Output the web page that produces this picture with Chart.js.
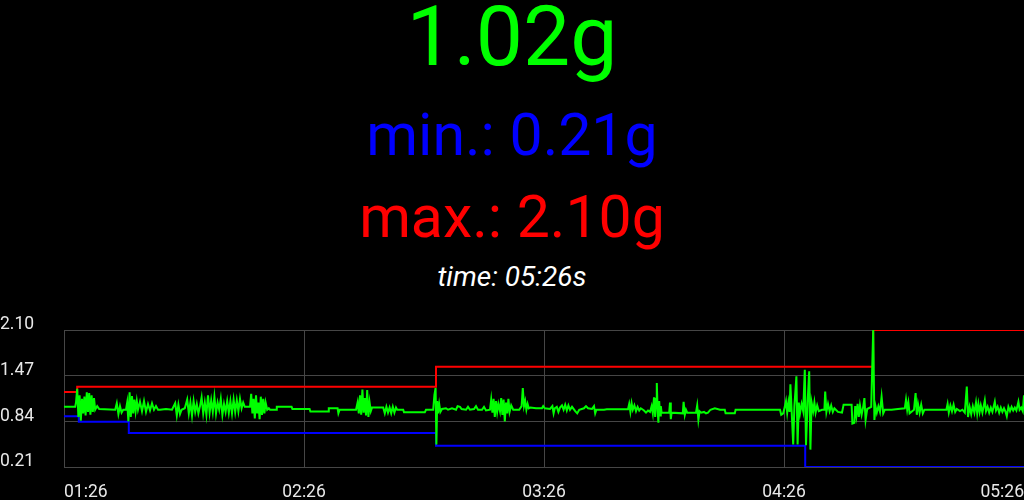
<!DOCTYPE html>
<html>
<head>
<meta charset="utf-8">
<script src="https://cdn.jsdelivr.net/npm/chart.js@4/dist/chart.umd.min.js"></script>
<style>
    html, body { margin: 0; padding: 0; background: #000; }
    body { width: 1024px; height: 500px; position: relative; overflow: hidden; font-family: Roboto, sans-serif; }
    .readout { position: absolute; left: 0; width: 1024px; text-align: center; line-height: 1; white-space: nowrap; }
    #current { top: -5px; font-size: 84px; color: #00ff00; }
    #minText { top: 105px; font-size: 59px; color: #0000ff; }
    #maxText { top: 187px; font-size: 59px; color: #ff0000; }
    #timeText { top: 263px; font-size: 28px; color: #fff; font-style: italic; }
    #graph { position: absolute; left: 0; top: 300px; }
</style>
</head>
<body>
<div class="readout" id="current">1.02g</div>
<div class="readout" id="minText">min.: 0.21g</div>
<div class="readout" id="maxText">max.: 2.10g</div>
<div class="readout" id="timeText">time: 05:26s</div>
<canvas id="graph" width="1024" height="200"></canvas>
<script>
// axis ticks (seconds / g)
const xTicks = [86, 146, 206, 266, 326];
const yTicks = [0.21, 0.84, 1.47, 2.10];

// running max / min, value holds until the next time
const maxTimes = [86, 89.3, 179, 288.3, 326];
const maxValues = [1.245, 1.318, 1.594, 2.10, 2.10];
const minTimes = [86, 89.7, 102.2, 179, 271.3, 326];
const minValues = [0.91, 0.835, 0.68, 0.504, 0.21, 0.21];

// accelerometer samples [seconds, g]
const accelSamples = [
    [86,1.04],[88.8,1.04],[89.0,1.10],[89.3,1.29],[89.6,0.90],[89.9,1.20],[90.2,0.85],[90.5,1.15],[90.8,0.95],[91.1,1.18],
    [91.4,0.92],[91.7,1.24],[92.0,0.97],[92.3,1.23],[92.6,0.93],[92.9,1.20],[93.2,0.97],[93.5,1.16],[93.8,1.00],[94.3,1.05],
    [94.8,1.01],[98.8,1.00],[99.2,1.09],[99.6,0.94],[100.0,1.05],[100.4,0.96],[100.8,1.00],[101.5,1.00],[101.8,1.10],[102.1,0.84],
    [102.4,1.24],[102.7,0.90],[103.0,1.19],[103.3,0.95],[103.6,1.14],[103.9,0.98],[104.2,1.12],[104.5,1.00],[105.0,1.11],[105.5,0.98],
    [106.0,1.12],[106.5,0.97],[107.0,1.08],[107.5,0.99],[108.0,1.09],[108.5,1.00],[109.0,1.05],[109.5,1.00],[110.0,1.00],[111.5,1.01],
    [113.0,1.00],[113.8,1.09],[114.2,0.92],[114.6,1.07],[115.0,0.94],[115.4,1.00],[116.2,1.02],[116.8,1.14],[117.2,0.95],[117.6,1.10],
    [118.0,0.92],[118.4,1.12],[118.8,0.97],[119.2,1.08],[119.6,0.95],[120.0,1.05],[120.4,1.17],[120.8,0.95],[121.2,1.10],[121.6,0.93],
    [122.0,1.20],[122.4,0.96],[122.8,1.13],[123.2,0.97],[123.6,1.18],[124.0,0.95],[124.4,1.10],[124.8,1.00],[125.2,1.15],[125.6,0.93],
    [126.0,1.08],[126.4,0.97],[126.8,1.12],[127.2,0.96],[127.6,1.12],[128.0,0.95],[128.4,1.14],[128.8,0.97],[129.2,1.13],[129.6,0.98],
    [130.0,1.15],[130.4,1.02],[130.8,1.10],[131.2,1.04],[132.5,1.04],[132.8,1.22],[133.1,0.95],[133.4,1.15],[133.7,0.88],[134.0,1.20],
    [134.3,0.95],[134.6,1.10],[134.9,0.87],[135.2,1.18],[135.5,0.93],[135.8,1.15],[136.1,0.95],[136.4,1.10],[136.8,1.00],[137.2,1.02],
    [137.5,1.00],[139.0,1.00],[139.2,1.04],[142.9,1.04],[143.1,1.01],[147.4,1.01],[147.6,0.975],[152.0,0.975],[152.2,1.02],[154.4,1.02],
    [154.6,0.95],[154.9,1.00],[159.0,1.00],[159.4,1.10],[159.7,0.95],[160.0,1.20],[160.3,0.93],[160.6,1.28],[160.9,0.96],[161.2,1.16],
    [161.5,0.92],[161.8,1.27],[162.1,0.90],[162.4,1.10],[162.7,0.98],[163.0,1.03],[165.8,1.03],[166.2,0.95],[166.6,1.04],[167.0,0.96],
    [167.4,1.03],[167.8,0.95],[168.2,1.04],[168.6,0.96],[169.0,1.03],[169.3,1.00],[170.8,1.00],[171.0,0.964],[176.2,0.964],[176.5,1.00],
    [178.3,1.00],[178.6,1.20],[178.9,1.30],[179.1,0.52],[179.3,1.12],[179.5,0.95],[179.8,1.08],[180.1,0.97],[180.5,1.01],[181.5,1.02],
    [182.0,1.00],[183.0,1.02],[184.0,1.00],[184.4,1.05],[185.0,1.04],[185.4,1.01],[186.5,1.00],[187.0,1.04],[187.5,1.00],[188.5,1.01],
    [189.0,1.05],[189.5,1.00],[190.5,1.00],[191.0,1.04],[191.5,0.99],[192.5,1.00],[192.8,1.14],[193.1,0.96],[193.4,1.15],[193.7,0.90],
    [194.0,1.12],[194.3,0.97],[194.6,1.08],[195.0,0.98],[195.3,1.16],[195.6,0.93],[195.9,1.14],[196.2,0.84],[196.5,1.10],[196.8,0.95],
    [197.1,1.15],[197.4,0.97],[197.8,1.06],[198.3,1.00],[199.8,1.00],[200.4,1.05],[200.7,1.30],[201.0,1.05],[201.3,1.12],[201.6,1.00],
    [201.9,1.08],[202.2,1.02],[202.6,1.03],[204.0,1.02],[205.5,1.02],[205.8,1.05],[206.2,1.02],[207.5,1.01],[208.1,1.05],[208.4,0.95],
    [208.7,1.02],[209.2,1.04],[209.6,0.97],[210.0,1.03],[210.5,1.06],[210.9,1.00],[211.3,1.07],[211.7,0.99],[212.1,1.06],[212.5,1.00],
    [213.0,1.04],[213.8,0.98],[214.3,0.95],[214.8,1.00],[216.0,1.02],[216.5,1.05],[217.0,1.02],[218.0,1.01],[218.5,1.05],[218.8,0.95],
    [219.1,1.00],[221.0,1.00],[221.7,1.006],[227.0,1.006],[227.3,1.08],[227.6,0.97],[227.9,1.09],[228.2,1.00],[228.6,1.06],[229.0,0.98],
    [229.4,1.04],[229.8,0.99],[230.2,1.02],[231.0,0.99],[231.5,0.96],[232.0,0.99],[232.5,0.97],[232.9,1.05],[233.2,0.95],[233.5,1.17],
    [233.8,0.90],[234.0,1.15],[234.2,1.37],[234.4,1.00],[234.6,0.82],[234.8,1.12],[235.0,0.92],[235.2,1.05],[235.4,0.96],[237.3,0.96],
    [237.5,1.10],[237.7,0.87],[237.9,0.96],[240.7,0.95],[240.9,1.11],[241.2,0.93],[241.5,1.00],[241.8,0.96],[244.0,0.96],[244.3,1.06],
    [244.6,0.86],[244.9,0.98],[245.3,0.96],[246.0,0.97],[246.5,0.95],[247.0,0.96],[247.6,1.00],[248.7,1.02],[250.0,1.00],[251.2,1.00],
    [251.4,0.95],[253.7,0.95],[253.9,1.00],[265.0,1.00],[265.3,0.93],[265.8,0.95],[266.2,1.04],[266.5,1.12],[266.8,0.96],[267.1,1.10],
    [267.4,0.97],[267.6,1.35],[267.9,1.00],[268.3,0.52],[268.6,1.05],[269.1,1.46],[269.4,0.52],[269.7,1.10],[270.0,0.95],[270.4,1.08],
    [270.8,0.98],[271.2,1.55],[271.5,0.51],[271.9,1.10],[272.3,1.53],[272.6,0.45],[272.9,1.10],[273.3,0.98],[273.6,1.10],[273.9,0.96],
    [274.3,1.06],[274.7,0.98],[275.5,1.00],[276.1,1.00],[276.3,1.25],[276.6,0.97],[277.0,1.08],[277.4,0.98],[277.8,1.06],[278.2,0.97],
    [278.6,1.02],[279.5,0.97],[280.5,0.96],[280.9,1.07],[282.9,1.07],[283.1,0.81],[283.6,0.82],[283.8,1.05],[284.1,0.92],[284.4,1.08],
    [284.7,0.90],[285.0,1.06],[285.4,0.93],[285.8,1.04],[286.1,1.16],[286.4,0.86],[286.8,1.01],[287.8,1.04],[288.3,2.10],[288.6,0.86],
    [288.9,1.04],[289.2,0.96],[289.6,1.05],[290.0,0.97],[290.4,1.18],[290.8,0.95],[291.2,1.00],[292.9,1.00],[294.5,1.01],[296.2,1.02],
    [296.5,1.14],[296.8,1.00],[297.1,1.10],[297.4,0.95],[298.5,1.00],[298.9,1.23],[299.2,0.93],[299.5,1.08],[299.9,0.96],[300.3,1.07],
    [300.7,0.95],[301.1,1.00],[306.6,1.00],[306.9,1.08],[307.2,0.96],[307.6,1.06],[308.0,0.98],[308.4,1.07],[308.8,0.97],[309.2,1.01],
    [310.0,0.98],[310.6,1.00],[311.2,0.96],[311.7,1.32],[312.0,0.90],[312.4,1.04],[312.8,0.94],[313.2,1.05],[313.6,0.96],[314.0,1.10],
    [314.3,0.95],[314.6,1.08],[314.9,0.97],[315.2,1.06],[315.6,0.96],[316.2,1.13],[316.5,0.98],[316.9,1.04],[317.3,0.96],[317.7,1.03],
    [318.1,0.97],[318.7,1.11],[319.0,0.99],[319.4,1.04],[319.8,0.96],[320.2,1.03],[320.6,0.97],[321.0,1.02],[321.4,0.97],[321.7,0.91],
    [322.1,1.04],[322.5,0.98],[322.9,1.04],[323.3,0.99],[323.7,1.03],[324.1,0.99],[324.6,1.11],[324.9,1.00],[325.3,1.03],[325.7,0.98],
    [326,1.20]
];

function formatTime(sec) {
    const m = Math.floor(sec / 60);
    const s = Math.round(sec % 60);
    return String(m).padStart(2, '0') + ':' + String(s).padStart(2, '0');
}

function toPoints(times, values) {
    return times.map((t, i) => ({ x: t, y: values[i] }));
}

document.addEventListener('DOMContentLoaded', function() {
    Chart.defaults.font.family = 'Roboto';
    const gridColor = '#464646';
    const labelColor = '#e8e8e8';

    const ctx = document.getElementById('graph').getContext('2d');
    new Chart(ctx, {
        type: 'line',
        data: {
            datasets: [{
                label: 'g',
                data: accelSamples.map(s => ({ x: s[0], y: s[1] })),
                borderColor: '#00ff00',
                borderWidth: 2,
                pointRadius: 0,
                tension: 0
            }, {
                label: 'max',
                data: toPoints(maxTimes, maxValues),
                borderColor: '#ff0000',
                borderWidth: 2,
                pointRadius: 0,
                stepped: true
            }, {
                label: 'min',
                data: toPoints(minTimes, minValues),
                borderColor: '#0000ff',
                borderWidth: 2,
                pointRadius: 0,
                stepped: true
            }]
        },
        options: {
            responsive: false,
            animation: false,
            events: [],
            layout: { padding: { top: 30, left: 0, right: 0, bottom: 0 } },
            plugins: {
                legend: { display: false },
                tooltip: { enabled: false }
            },
            scales: {
                x: {
                    type: 'linear',
                    min: xTicks[0],
                    max: xTicks[xTicks.length - 1],
                    afterBuildTicks: axis => { axis.ticks = xTicks.map(v => ({ value: v })); },
                    afterFit: axis => {
                        axis.height = 33;
                        // labels hug the edges, so no side padding is needed
                        axis.paddingLeft = 0;
                        axis.paddingRight = 0;
                    },
                    grid: { color: gridColor, drawTicks: false },
                    border: { color: gridColor },
                    ticks: {
                        callback: v => formatTime(v),
                        color: labelColor,
                        font: { size: 17.5 },
                        align: 'inner',
                        maxRotation: 0,
                        autoSkip: false,
                        padding: 15
                    }
                },
                y: {
                    min: yTicks[0],
                    max: yTicks[yTicks.length - 1],
                    afterBuildTicks: axis => { axis.ticks = yTicks.map(v => ({ value: v })); },
                    afterFit: axis => { axis.width = 64; },
                    grid: { color: gridColor, drawTicks: false },
                    border: { color: gridColor },
                    ticks: {
                        callback: v => v.toFixed(2),
                        color: labelColor,
                        font: { size: 17.5 },
                        crossAlign: 'far',
                        labelOffset: -5,
                        padding: 4
                    }
                }
            }
        }
    });
});
</script>
</body>
</html>
